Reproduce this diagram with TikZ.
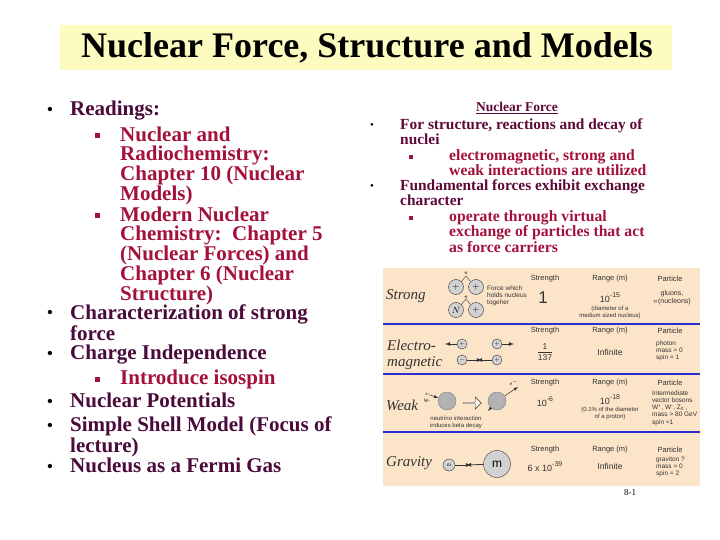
\documentclass[tikz,border=0pt]{standalone}
\usepackage{fontspec}
\usetikzlibrary{shapes.arrows}
\setmainfont{Liberation Serif}
\newfontfamily\ssf{Liberation Sans}
\newcommand{\sups}[1]{\raisebox{0.55em}{\scriptsize #1}}
\begin{document}
\begin{tikzpicture}[x=1pt,y=-1pt,
  l1/.style={anchor=north west,inner sep=0,text=lone,align=left,font=\fontsize{21}{17.5}\selectfont\bfseries},
  l2/.style={anchor=north west,inner sep=0,text=ltwo,align=left,font=\fontsize{21}{18.7}\selectfont\bfseries},
  r1/.style={anchor=north west,inner sep=0,text=rone,align=left,font=\fontsize{15.4}{13.3}\selectfont\bfseries},
  r2/.style={anchor=north west,inner sep=0,text=ltwo,align=left,font=\fontsize{15.7}{13.5}\selectfont\bfseries},
  bul/.style={anchor=center,inner sep=0,font=\fontsize{18}{18}\selectfont},
  sq/.style={fill=ltwo,minimum size=5pt,inner sep=0},
  rl/.style={anchor=west,inner sep=0,font=\fontsize{15}{15}\selectfont\itshape,text=darkg},
  th/.style={inner sep=0,font=\ssf\fontsize{7.5}{8}\selectfont,text=darkg,align=center},
  tv/.style={inner sep=0,font=\ssf\fontsize{7}{7.5}\selectfont,text=darkg,align=center},
  ball/.style={circle,draw=darkg,fill=gray!35,inner sep=0,minimum size=#1},
  arr/.style={-latex,darkg,line width=0.8pt}]
\definecolor{lone}{HTML}{4A0A3A}
\definecolor{ltwo}{HTML}{A3123A}
\definecolor{rone}{HTML}{5E0838}
\definecolor{peach}{HTML}{FCE4C8}
\definecolor{bar}{HTML}{2A2ED0}
\definecolor{darkg}{HTML}{333333}
\definecolor{titlebg}{HTML}{FDFCC0}
\useasboundingbox (0,0) rectangle (720,540);
\fill[white] (0,0) rectangle (720,540);
\fill[titlebg] (60,25) rectangle (672,70);
\node[inner sep=0,font=\fontsize{36}{36}\selectfont\bfseries] (title) at (367,48) {Nuclear Force, Structure and Models};
% left column
\foreach \y in {111,314,355,403,427,468} \node[bul] at (50,\y) {•};
\foreach \y in {136,216,379} \node[sq] at (97,\y) {};
\node[l1] (a1) at (70,101) {Readings:};
\node[l2] (a2) at (120,127) {Nuclear and\\Radiochemistry:\\Chapter 10 (Nuclear\\Models)};
\node[l2] (a6) at (120,207) {Modern Nuclear\\Chemistry:\ \ Chapter 5\\(Nuclear Forces) and\\Chapter 6 (Nuclear\\Structure)};
\node[l1] (b1) at (70,305) {Characterization of strong\\force};
\node[l1] (b3) at (70,345) {Charge Independence};
\node[l2] (b4) at (120,370) {Introduce isospin};
\node[l1] (b5) at (70,393) {Nuclear Potentials};
\node[l1] (b6) at (70,417) {Simple Shell Model (Focus of\\lecture)};
\node[l1] (b8) at (70,458) {Nucleus as a Fermi Gas};
% right column
\node[inner sep=0,text=rone,font=\fontsize{13.5}{12}\selectfont\bfseries] (nf) at (517,108) {\underline{Nuclear Force}};
\foreach \y in {126,187} \node[bul,font=\fontsize{11}{11}\selectfont] at (372,\y) {•};
\foreach \y in {157,218} \node[sq,minimum size=3.5pt] at (411,\y) {};
\node[r1] (c1) at (400,118) {For structure, reactions and decay of\\nuclei};
\node[r2] (c3) at (449,149) {electromagnetic, strong and\\weak interactions are utilized};
\node[r1] (c5) at (400,179) {Fundamental forces exhibit exchange\\character};
\node[r2] (c7) at (449,210) {operate through virtual\\exchange of particles that act\\as force carriers};
% table
\fill[peach] (383,268) rectangle (700,486);
\foreach \y in {324,374,432} \fill[bar] (383,\y-1.3) rectangle (700,\y+1.3);
\foreach \y in {279,331,383,450} {
  \node[th] at (545,\y) {Strength};
  \node[th] at (610,\y) {Range (m)};
  \node[th] at (670,\y) {Particle};}
% strong
\node[rl] (s) at (386,296) {Strong};
\node[ball=15pt] (p1) at (456,287) {\small $+$};
\node[ball=15pt] (p2) at (476,287) {\small $+$};
\node[ball=15pt] (n1) at (456,310) {\small $N$};
\node[ball=15pt] (p3) at (476,310) {\small $+$};
\draw[darkg,thin] (p1.north east) -- (466,276) -- (p2.north west);
\draw[darkg,thin] (n1.north east) -- (466,299) -- (p3.north west);
\node[inner sep=0,font=\fontsize{5}{5}\selectfont] at (466,273) {$\pi$};
\node[inner sep=0,font=\fontsize{5}{5}\selectfont] at (466,297) {$\pi$};
\node[tv,anchor=west,align=left,font=\ssf\fontsize{6.5}{7}\selectfont] at (487,296) {Force which\\holds nucleus\\togeher};
\node[inner sep=0,font=\ssf\fontsize{17}{17}\selectfont,text=darkg] at (543,298) {1};
\node[tv,font=\ssf\fontsize{9}{9}\selectfont] at (610,298) {10\sups{-15}};
\node[tv,font=\ssf\fontsize{6}{7}\selectfont] at (610,312) {(diameter of a\\medium sized nucleus)};
\node[tv,font=\ssf\fontsize{7}{8}\selectfont] at (672,298) {gluons,\\$\pi$(nucleons)};
% electromagnetic
\node[rl] at (387,345) {Electro-};
\node[rl] at (387,363) {magnetic};
\node[ball=10pt] (e1) at (462,344) {\tiny $+$};
\node[ball=10pt] (e2) at (497,344) {\tiny $+$};
\node[ball=10pt] (e3) at (462,360) {\tiny $-$};
\node[ball=10pt] (e4) at (497,360) {\tiny $+$};
\coordinate (e1a) at (445,344); \coordinate (e2a) at (514,344);
\draw[arr] (e1) -- (e1a); \draw[arr] (e2) -- (e2a);
\draw[arr] (e3) -- (482,360); \draw[arr] (e4) -- (477,360);
\node[tv,font=\ssf\fontsize{8.5}{9}\selectfont] (fr1) at (545,347) {1};
\node[tv,font=\ssf\fontsize{8.5}{9}\selectfont] (fr2) at (545,358) {137};
\draw[darkg,line width=0.5pt] (538,352.5) -- (552,352.5);
\node[th,font=\ssf\fontsize{8.5}{8}\selectfont] at (610,352) {Infinite};
\node[tv,anchor=west,align=left,font=\ssf\fontsize{6.5}{7}\selectfont] at (656,351) {photon\\mass = 0\\spin = 1};
% weak
\node[rl] at (386,405) {Weak};
\node[ball=18pt,fill=gray!60,draw=gray] (w1) at (447,401) {};
\node[ball=18pt,fill=gray!60,draw=gray] (w2) at (497,401) {};
\node[inner sep=0,font=\fontsize{5}{5}\selectfont] (nu) at (427,394) {$\nu$};
\node[inner sep=0,font=\fontsize{5}{5}\selectfont] (wm) at (427,401) {W-};
\draw[arr,line width=0.5pt] (nu) -- (w1);
\node[draw=darkg,fill=white!70!peach,single arrow,minimum width=12pt,minimum height=18pt,inner sep=0,single arrow head extend=2pt] at (472,403) {};
\coordinate (ee) at (518,387); \coordinate (rc) at (488,411);
\draw[arr,line width=0.5pt] (w2) -- (ee); \draw[arr,line width=0.5pt] (w2) -- (rc);
\node[inner sep=0,font=\fontsize{5}{5}\selectfont] at (514,383) {e$^-$};
\node[tv,font=\ssf\fontsize{6}{7}\selectfont] at (456,422) {neutrino interaction\\induces beta decay};
\node[tv,font=\ssf\fontsize{9}{9}\selectfont] at (545,402) {10\sups{-6}};
\node[tv,font=\ssf\fontsize{9}{9}\selectfont] at (610,400) {10\sups{-18}};
\node[tv,font=\ssf\fontsize{6}{7}\selectfont] at (610,413) {(0.1\% of the diameter\\of a proton)};
\node[tv,anchor=west,align=left,font=\ssf\fontsize{6.5}{7.3}\selectfont] at (652,408) {Intermediate\\vector bosons\\W\textsuperscript{+}, W\textsuperscript{-}, Z\textsubscript{0} ,\\mass > 80 GeV\\spin =1};
% gravity
\node[rl] at (386,463) {Gravity};
\node[ball=12pt] (m1) at (449,465) {\tiny m};
\node[ball=27pt] (m2) at (497,464) {\large\ssf m};
\draw[arr] (m1) -- (471,465); \draw[arr] (m2) -- (466,465);
\node[tv,font=\ssf\fontsize{9}{9}\selectfont] at (545,467) {6\ x\ 10\sups{-39}};
\node[th,font=\ssf\fontsize{8.5}{8}\selectfont] at (610,466) {Infinite};
\node[tv,anchor=west,align=left,font=\ssf\fontsize{6.5}{7}\selectfont] at (656,467) {graviton ?\\mass = 0\\spin = 2};
\node[inner sep=0,font=\fontsize{9}{9}\selectfont] (pg) at (630,493) {8-1};
\end{tikzpicture}
\end{document}
